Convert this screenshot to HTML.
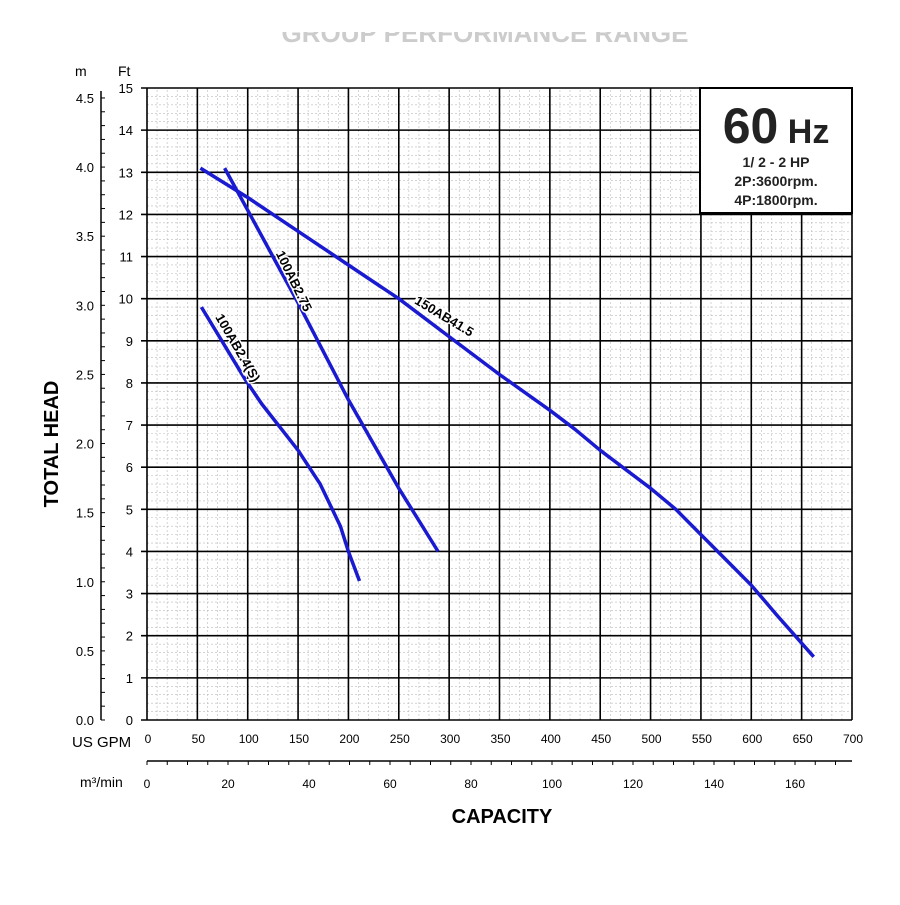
<!DOCTYPE html>
<html><head><meta charset="utf-8"><style>
body{margin:0;background:#fff;}
svg text{font-family:"Liberation Sans",Arial,sans-serif;}
</style></head><body>
<svg id="chart" width="900" height="900" viewBox="0 0 900 900" xmlns="http://www.w3.org/2000/svg">
<text x="485" y="42" text-anchor="middle" font-size="26" font-weight="bold" fill="#ccc">GROUP PERFORMANCE RANGE</text>
<rect x="0" y="0" width="900" height="32" fill="#fff"/>
<g id="grid"></g>
<g id="axes"></g>
<g id="curves"></g>
<g>
<rect x="700" y="88" width="152" height="125" fill="#fff" stroke="#000" stroke-width="2"/>
<text x="776" y="143" text-anchor="middle" font-weight="bold" fill="#222"><tspan font-size="50">60</tspan><tspan font-size="34"> Hz</tspan></text>
<text x="776" y="167" text-anchor="middle" font-size="14" font-weight="bold" fill="#222">1/ 2 - 2 HP</text>
<text x="776" y="186" text-anchor="middle" font-size="14" font-weight="bold" fill="#222">2P:3600rpm.</text>
<text x="776" y="205" text-anchor="middle" font-size="14" font-weight="bold" fill="#222">4P:1800rpm.</text>
</g>
<text x="75" y="76" font-size="14">m</text>
<text x="118" y="76" font-size="14">Ft</text>
<text x="58" y="444" font-size="20" font-weight="bold" text-anchor="middle" transform="rotate(-90 58 444)">TOTAL HEAD</text>
<text x="502" y="823" font-size="20" font-weight="bold" text-anchor="middle">CAPACITY</text>
<text x="72" y="747" font-size="15">US GPM</text>
<text x="80" y="787" font-size="14">m³/min</text>
</svg>
<script>
const gpmTicks=[0,50,100,150,200,250,300,350,400,450,500,550,600,650,700];
const ftTicks=[0,1,2,3,4,5,6,7,8,9,10,11,12,13,14,15];
const mTicks=[0.0,0.5,1.0,1.5,2.0,2.5,3.0,3.5,4.0,4.5];
const m3Ticks=[0,20,40,60,80,100,120,140,160];
const s150Gpm=[53,100,150,200,250,300,350,400,425,450,500,525,550,575,600,625,662];
const s150Ft=[13.1,12.4,11.6,10.8,10.0,9.1,8.2,7.35,6.9,6.4,5.5,5.0,4.4,3.8,3.2,2.5,1.5];
const s275Gpm=[77,100,150,200,250,289];
const s275Ft=[13.1,12.1,9.9,7.6,5.5,4.0];
const s24Gpm=[54,97,114,150,172,192,200,211];
const s24Ft=[9.8,8.1,7.5,6.4,5.6,4.6,4.0,3.3];
const X=g=>147+g*(705/700);
const Y=f=>720-f*(632/15);
const YM=m=>Y(m*3.2808);
const XM=v=>147+v*(81/20);
const NS="http://www.w3.org/2000/svg";
function mk(p,t,a){const e=document.createElementNS(NS,t);for(const k in a)e.setAttribute(k,a[k]);p.appendChild(e);return e;}
const grid=document.getElementById('grid'),axes=document.getElementById('axes'),cv=document.getElementById('curves');
for(let g=0;g<=700;g+=10){if(g%50===0)continue;const l=mk(grid,'line',{x1:X(g),x2:X(g),y1:Y(0),y2:Y(15),stroke:'#bbb','stroke-width':0.6,'stroke-dasharray':'2,2'});

}
for(let i=0;i<=75;i++){if(i%5===0)continue;const f=i/5;const l=mk(grid,'line',{x1:X(0),x2:X(700),y1:Y(f),y2:Y(f),stroke:'#bbb','stroke-width':0.6,'stroke-dasharray':'2,2'});

}
gpmTicks.forEach(g=>{const l=mk(grid,'line',{x1:X(g),x2:X(g),y1:Y(0),y2:Y(15),stroke:'#000','stroke-width':1.6});


const t=mk(axes,'text',{x:X(g)+1,y:743,'font-size':12,'text-anchor':'middle'});t.textContent=g;

});
ftTicks.forEach(f=>{const l=mk(grid,'line',{x1:X(0)-6,x2:X(700),y1:Y(f),y2:Y(f),stroke:'#000','stroke-width':1.6});


const t=mk(axes,'text',{x:133,y:Y(f)+5,'font-size':13,'text-anchor':'end'});t.textContent=f;

});
const ma=mk(axes,'line',{x1:101,x2:101,y1:YM(0),y2:YM(4.55),stroke:'#000','stroke-width':1.5});


for(let i=0;i<=45;i++){const tk=mk(axes,'line',{x1:101,x2:105,y1:YM(i/10),y2:YM(i/10),stroke:'#000','stroke-width':1});

}
mTicks.forEach(m=>{const t=mk(axes,'text',{x:94,y:YM(m)+5,'font-size':13,'text-anchor':'end'});t.textContent=m.toFixed(1);

});
const xa=mk(axes,'line',{x1:147,x2:852,y1:761,y2:761,stroke:'#000','stroke-width':1.5});


for(let v=0;v<=170;v+=5){if(XM(v)>852)break;const tk=mk(axes,'line',{x1:XM(v),x2:XM(v),y1:761,y2:765,stroke:'#000','stroke-width':1});

}
m3Ticks.forEach(v=>{const t=mk(axes,'text',{x:XM(v),y:788,'font-size':12,'text-anchor':'middle'});t.textContent=v;

});
function curve(gs,fs,name){const d=gs.map((g,i)=>(i?'L':'M')+X(g).toFixed(1)+','+Y(fs[i]).toFixed(1)).join(' ');
const p=mk(cv,'path',{d:d,fill:'none',stroke:'#1a1ad0','stroke-width':3.5,'stroke-linejoin':'round'});

}
curve(s150Gpm,s150Ft,'curve-150ab41-5');
curve(s275Gpm,s275Ft,'curve-100ab2-75');
curve(s24Gpm,s24Ft,'curve-100ab2-4s');
function lab(txt,x,y,ang,name){const t=mk(cv,'text',{x:x,y:y,'font-size':13,'font-weight':'bold','text-anchor':'middle',transform:`rotate(${ang} ${x} ${y})`,stroke:'#fff','stroke-width':3,'paint-order':'stroke'});t.textContent=txt;

}
lab('150AB41.5',442,320,31,'label-150ab41-5');
lab('100AB2.75',290,283,64,'label-100ab2-75');
lab('100AB2.4(S)',234,350,60,'label-100ab2-4s');
</script>
</body></html>
